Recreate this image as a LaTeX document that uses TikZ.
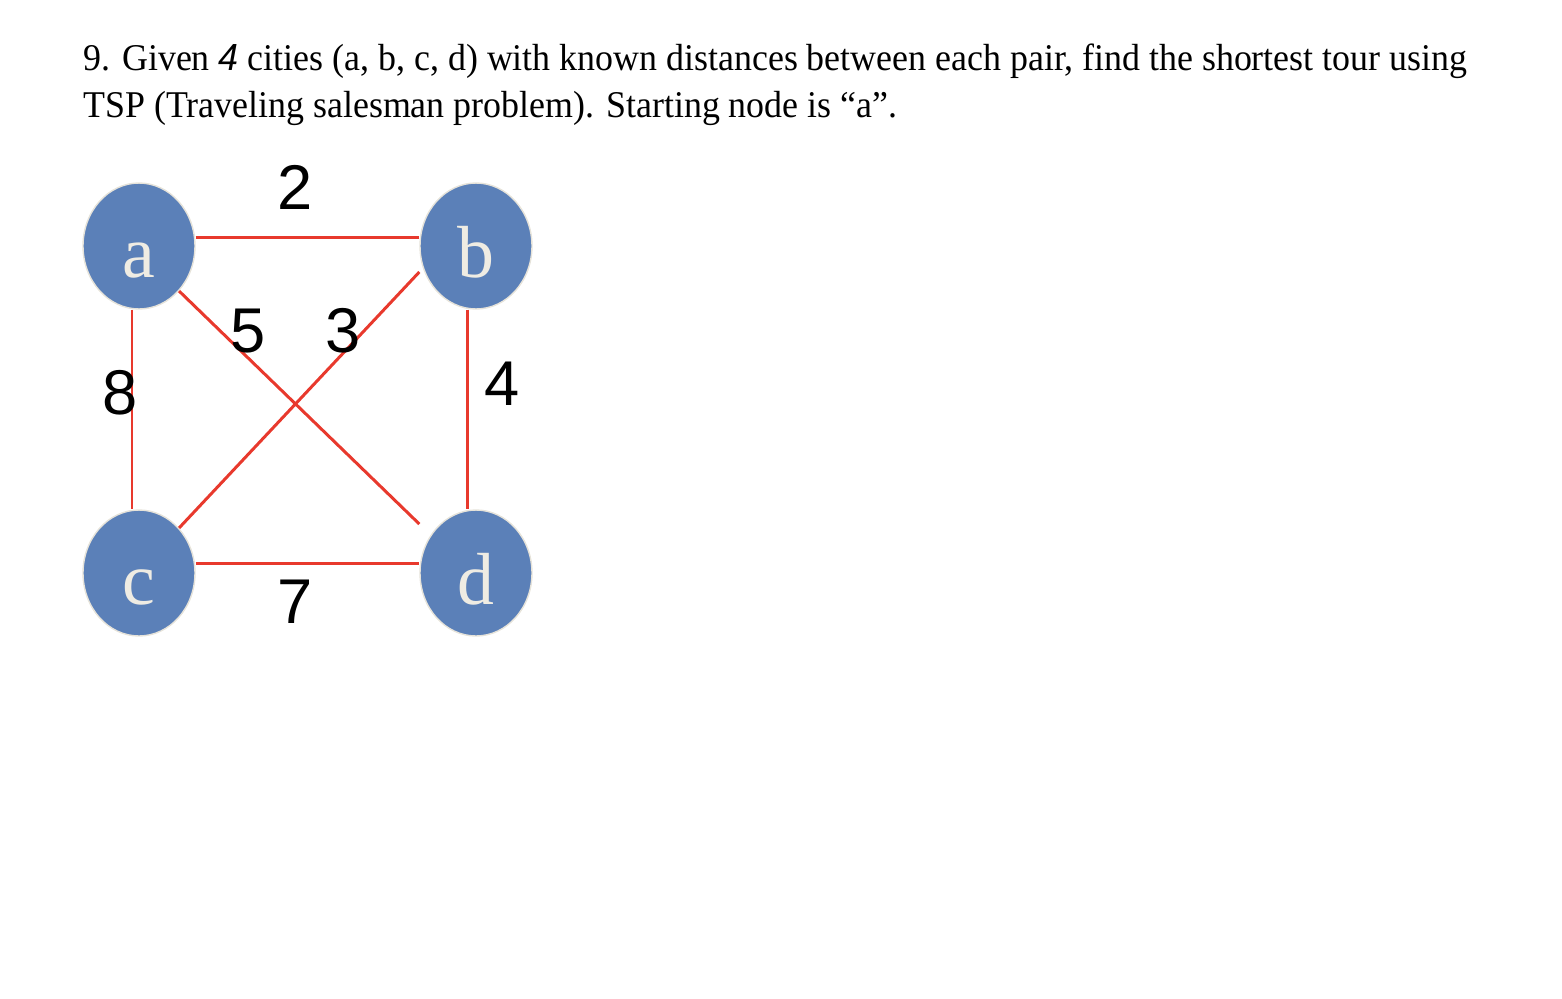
\documentclass[tikz,border=0pt]{standalone}
\usepackage{fontspec}
\setmainfont{Liberation Serif}
\newfontfamily\labelfont{Liberation Sans}
\newfontfamily\questionfont[FakeStretch=0.95]{Liberation Serif}
\newfontfamily\questionsans[FakeStretch=0.95]{Liberation Sans}
\usetikzlibrary{shapes.geometric}
\definecolor{CityBlue}{HTML}{5B80B8}
\definecolor{CityRim}{HTML}{E6E3DA}
\definecolor{CityText}{HTML}{EFECE3}
\definecolor{RoadRed}{HTML}{E8392D}
\newcommand*{\CityWidth}{2.24cm}
\newcommand*{\CityHeight}{2.52cm}
\tikzset{
    city/.style={ellipse, draw=CityRim, line width=0.8pt, fill=CityBlue,
        minimum width=\CityWidth, minimum height=\CityHeight, inner sep=0pt,
        text=CityText, font=\fontsize{42}{42}\selectfont,
        text height=36pt, text depth=0pt},
    road/.style={RoadRed, line width=1.7pt},
    dist/.style={inner sep=0pt, font=\labelfont\fontsize{36}{36}\selectfont},
    question/.style={anchor=base west, inner sep=0pt, font=\questionfont\fontsize{21.5}{26}\selectfont},
}

\begin{document}
\begin{tikzpicture}[x=0.02cm, y=-0.02cm]
        \useasboundingbox (0,0) rectangle (1562,998);
        % question
        \node[question] (line1) at (83,70) {9. Given {\questionsans\itshape 4} cities (a, b, c, d) with known distances between each pair, find the shortest tour using};
        \node[question] (line2) at (83,117) {TSP (Traveling salesman problem). Starting node is “a”.};
        % cities
        \foreach \name/\x/\y in {a/139/246, b/476/246, c/139/573, d/476/573}
            \node[city] (\name) at (\x,\y) {\name};
        % roads
        \draw[road] ([yshift=0.18cm]a.east) -- ([yshift=0.18cm]b.west);
        \draw[road] ([yshift=0.2cm]c.east) -- ([yshift=0.2cm]d.west);
        \draw[road] ([xshift=-0.14cm]a.south) -- ([xshift=-0.14cm]c.north);
        \draw[road] ([xshift=-0.18cm]b.south) -- ([xshift=-0.18cm]d.north);
        \draw[road] (a.south east) -- ([yshift=0.98cm]d.west);
        \draw[road] (c.north east) -- ([yshift=-0.52cm]b.west);
        % distances
        \foreach \w/\x/\y in {2/295/187, 5/248/331, 3/343/331, 8/120/393, 4/502/384, 7/295/602}
            \node[dist] (w\w) at (\x,\y) {\w};
\end{tikzpicture}
\end{document}
